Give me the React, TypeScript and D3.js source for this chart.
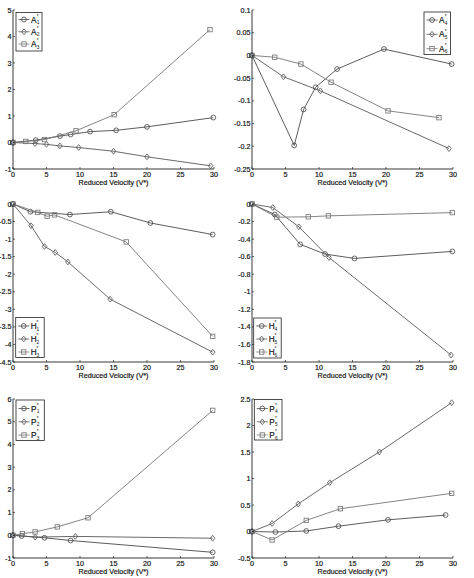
import React from 'react';
import * as d3 from 'd3';

const xTicks = [0, 5, 10, 15, 20, 25, 30];
const xLabel = 'Reduced Velocity (V*)';

// Panel 1: A1*, A2*, A3*
const a1V = [0, 3.4, 7, 8.6, 11.5, 15.4, 20, 29.9];
const a1Y = [0, 0.09, 0.24, 0.3, 0.41, 0.46, 0.59, 0.94];
const a2V = [0, 3.3, 5, 7, 9.8, 15, 20, 29.5];
const a2Y = [0, -0.04, -0.07, -0.13, -0.19, -0.33, -0.54, -0.88];
const a3V = [0, 1.9, 4.7, 9.4, 15.1, 29.4];
const a3Y = [0, 0.04, 0.11, 0.44, 1.05, 4.26];
const yTicksA13 = [-1, 0, 1, 2, 3, 4, 5];

// Panel 2: A4*, A5*, A6*
const a4V = [0, 6.3, 7.7, 9.5, 12.7, 19.7, 29.8];
const a4Y = [0, -0.198, -0.119, -0.07, -0.03, 0.014, -0.019];
const a5V = [0, 4.7, 10.2, 29.4];
const a5Y = [0, -0.047, -0.078, -0.205];
const a6V = [0, 3.4, 7.3, 11.8, 20.3, 27.9];
const a6Y = [0, -0.004, -0.019, -0.059, -0.122, -0.137];
const yTicksA46 = [-0.25, -0.2, -0.15, -0.1, -0.05, 0, 0.05, 0.1];

// Panel 3: H1*, H2*, H3*
const h1V = [0, 2.6, 8.5, 14.6, 20.5, 29.8];
const h1Y = [0, -0.22, -0.3, -0.22, -0.54, -0.87];
const h2V = [0, 2.7, 4.7, 6.3, 8.2, 14.5, 29.8];
const h2Y = [0, -0.62, -1.21, -1.38, -1.65, -2.71, -4.22];
const h3V = [0, 3.7, 5.1, 6.2, 16.9, 29.8];
const h3Y = [0, -0.24, -0.35, -0.31, -1.08, -3.77];
const yTicksH13 = [-4.5, -4, -3.5, -3, -2.5, -2, -1.5, -1, -0.5, 0];

// Panel 4: H4*, H5*, H6*
const h4V = [0, 3.4, 7.2, 10.9, 15.3, 29.9];
const h4Y = [0, -0.12, -0.46, -0.57, -0.62, -0.54];
const h5V = [0, 3.1, 7, 11.5, 29.7];
const h5Y = [0, -0.04, -0.26, -0.61, -1.72];
const h6V = [0, 3.7, 8.4, 11.4, 29.9];
const h6Y = [0, -0.15, -0.146, -0.135, -0.098];
const yTicksH46 = [-1.8, -1.6, -1.4, -1.2, -1, -0.8, -0.6, -0.4, -0.2, 0];

// Panel 5: P1*, P2*, P3*
const p1V = [0, 1.3, 4.7, 8.6, 29.8];
const p1Y = [0, -0.03, -0.11, -0.23, -0.75];
const p2V = [0, 3.3, 9.3, 29.8];
const p2Y = [0, -0.08, -0.05, -0.13];
const p3V = [0, 1.4, 3.3, 6.6, 11.2, 29.8];
const p3Y = [0, 0.07, 0.15, 0.37, 0.77, 5.5];
const yTicksP13 = [-1, 0, 1, 2, 3, 4, 5, 6];

// Panel 6: P4*, P5*, P6*
const p4V = [0, 3.5, 8.1, 12.9, 20.3, 28.9];
const p4Y = [0, -0.01, 0.01, 0.1, 0.22, 0.31];
const p5V = [0, 3, 6.9, 11.6, 19, 29.8];
const p5Y = [0, 0.15, 0.52, 0.92, 1.5, 2.43];
const p6V = [0, 3, 8.1, 13.2, 29.8];
const p6Y = [0, -0.16, 0.21, 0.43, 0.72];
const yTicksP46 = [-0.5, 0, 0.5, 1, 1.5, 2, 2.5];

const legendA13 = ['1', '2', '3'];
const legendA46 = ['4', '5', '6'];
const legendH13 = ['1', '2', '3'];
const legendH46 = ['4', '5', '6'];
const legendP13 = ['1', '2', '3'];
const legendP46 = ['4', '5', '6'];

type Series = { v: number[]; y: number[]; marker: 'circle' | 'diamond' | 'square' };

const FONT = 'Liberation Sans, Arial, Helvetica, sans-serif';
const AXIS = '#222';
const TEXT = '#111';
const LINE_COLORS = ['#4a4a4a', '#585858', '#767676'];
const markers: Array<'circle' | 'diamond' | 'square'> = ['circle', 'diamond', 'square'];

function Marker({ kind, x, y, color }: { kind: string; x: number; y: number; color: string }) {
  if (kind === 'circle') return <circle cx={x} cy={y} r={2.4} fill="none" stroke={color} strokeWidth={0.85} />;
  if (kind === 'diamond')
    return (
      <path
        d={`M${x},${y - 2.9}L${x + 2.3},${y}L${x},${y + 2.9}L${x - 2.3},${y}Z`}
        fill="none"
        stroke={color}
        strokeWidth={0.85}
      />
    );
  return <rect x={x - 2.2} y={y - 2.2} width={4.4} height={4.4} fill="none" stroke={color} strokeWidth={0.85} />;
}

function fmt(v: number) {
  return String(+v.toFixed(3));
}

type PanelProps = {
  left: number;
  right: number;
  top: number;
  bottom: number;
  yTicks: number[];
  series: Series[];
  letter: string;
  subs: string[];
  legend: { x: number; y: number; w: number; rows: number[] };
};

const textStyle = { stroke: TEXT, strokeWidth: 0.18 };

function Panel({ left, right, top, bottom, yTicks, series, letter, subs, legend }: PanelProps) {
  const x = d3.scaleLinear().domain([0, 30]).range([left, right]);
  const y = d3
    .scaleLinear()
    .domain([yTicks[0], yTicks[yTicks.length - 1]])
    .range([bottom, top]);
  const line = d3
    .line<[number, number]>()
    .x((d) => x(d[0]))
    .y((d) => y(d[1]));
  const legTop = legend.y;
  const legH = legend.rows[legend.rows.length - 1] - legend.rows[0] + 14;
  return (
    <g>
      {series.map((s, i) => {
        const pts = s.v.map((v, j) => [v, s.y[j]] as [number, number]);
        const c = LINE_COLORS[i];
        return (
          <g key={i}>
            <path d={line(pts) || ''} fill="none" stroke={c} strokeWidth={0.9} />
            {pts.map((p, j) => (
              <Marker key={j} kind={s.marker} x={x(p[0])} y={y(p[1])} color={c} />
            ))}
          </g>
        );
      })}
      {/* axes */}
      <line x1={left} x2={left} y1={top} y2={bottom} stroke={AXIS} strokeWidth={0.9} />
      <line x1={left} x2={right} y1={bottom} y2={bottom} stroke={AXIS} strokeWidth={0.9} />
      {xTicks.map((t) => (
        <g key={'x' + t}>
          <line x1={x(t)} x2={x(t)} y1={bottom} y2={bottom - 2} stroke={AXIS} strokeWidth={0.7} />
          <text x={x(t)} y={bottom + 7.8} fontSize={7.2} textAnchor="middle" fontFamily={FONT} fill={TEXT} style={textStyle}>
            {fmt(t)}
          </text>
        </g>
      ))}
      {yTicks.map((t) => (
        <g key={'y' + t}>
          <line x1={left} x2={left + 2} y1={y(t)} y2={y(t)} stroke={AXIS} strokeWidth={0.7} />
          <text x={left - 1.5} y={y(t) + 2.6} fontSize={7.2} textAnchor="end" fontFamily={FONT} fill={TEXT} style={textStyle}>
            {fmt(t)}
          </text>
        </g>
      ))}
      <text
        x={(left + right) / 2}
        y={bottom + 15.8}
        fontSize={7.2}
        textAnchor="middle"
        fontFamily={FONT}
        fill={TEXT}
        style={textStyle}
      >
        {xLabel}
      </text>
      {/* legend */}
      <rect
        x={legend.x}
        y={legTop}
        width={legend.w}
        height={legH}
        fill="#fff"
        stroke={AXIS}
        strokeWidth={0.8}
      />
      {legend.rows.map((ry, i) => {
        const c = LINE_COLORS[i];
        const lx = legend.x + 2.5;
        return (
          <g key={'l' + i}>
            <line x1={lx} x2={lx + 11} y1={ry} y2={ry} stroke={c} strokeWidth={0.8} />
            <Marker kind={markers[i]} x={lx + 5.5} y={ry} color={c} />
            <text x={lx + 12.5} y={ry + 3} fontSize={8.2} fontFamily={FONT} fill={TEXT} style={textStyle}>
              {letter}
            </text>
            <text x={lx + 18.3} y={ry - 1.8} fontSize={4.8} fontFamily={FONT} fill={TEXT}>
              *
            </text>
            <text x={lx + 18.3} y={ry + 4.6} fontSize={4.8} fontFamily={FONT} fill={TEXT}>
              {subs[i]}
            </text>
          </g>
        );
      })}
    </g>
  );
}

export default function App() {
  const L = { left: 13, right: 214 };
  const R = { left: 252, right: 453 };
  const rows = [
    { top: 10, bottom: 169 },
    { top: 204, bottom: 362 },
    { top: 399, bottom: 558 },
  ];
  const mk = (pairs: [number[], number[]][]): Series[] =>
    pairs.map((p, i) => ({ v: p[0], y: p[1], marker: markers[i] }));
  return (
    <svg
      width={474}
      height={578}
      style={{ position: 'absolute', left: 0, top: 0, background: '#fff' }}
    >
      <rect x={0} y={0} width={474} height={578} fill="#fff" />
      <Panel
        {...L}
        {...rows[0]}
        yTicks={yTicksA13}
        series={mk([[a1V, a1Y], [a2V, a2Y], [a3V, a3Y]])}
        letter="A"
        subs={legendA13}
        legend={{ x: 16, y: 12.5, w: 26, rows: [19.5, 31.8, 44] }}
      />
      <Panel
        {...R}
        {...rows[0]}
        yTicks={yTicksA46}
        series={mk([[a4V, a4Y], [a5V, a5Y], [a6V, a6Y]])}
        letter="A"
        subs={legendA46}
        legend={{ x: 424, y: 12, w: 26.5, rows: [20, 34.3, 48.6] }}
      />
      <Panel
        {...L}
        {...rows[1]}
        yTicks={yTicksH13}
        series={mk([[h1V, h1Y], [h2V, h2Y], [h3V, h3Y]])}
        letter="H"
        subs={legendH13}
        legend={{ x: 15.7, y: 317.5, w: 28.5, rows: [326, 339, 352] }}
      />
      <Panel
        {...R}
        {...rows[1]}
        yTicks={yTicksH46}
        series={mk([[h4V, h4Y], [h5V, h5Y], [h6V, h6Y]])}
        letter="H"
        subs={legendH46}
        legend={{ x: 253.7, y: 318, w: 27.5, rows: [326, 339, 352] }}
      />
      <Panel
        {...L}
        {...rows[2]}
        yTicks={yTicksP13}
        series={mk([[p1V, p1Y], [p2V, p2Y], [p3V, p3Y]])}
        letter="P"
        subs={legendP13}
        legend={{ x: 16, y: 400, w: 28.3, rows: [408.5, 421.8, 435] }}
      />
      <Panel
        {...R}
        {...rows[2]}
        yTicks={yTicksP46}
        series={mk([[p4V, p4Y], [p5V, p5Y], [p6V, p6Y]])}
        letter="P"
        subs={legendP46}
        legend={{ x: 254.3, y: 399.5, w: 27.7, rows: [408.5, 421.8, 435] }}
      />
    </svg>
  );
}
